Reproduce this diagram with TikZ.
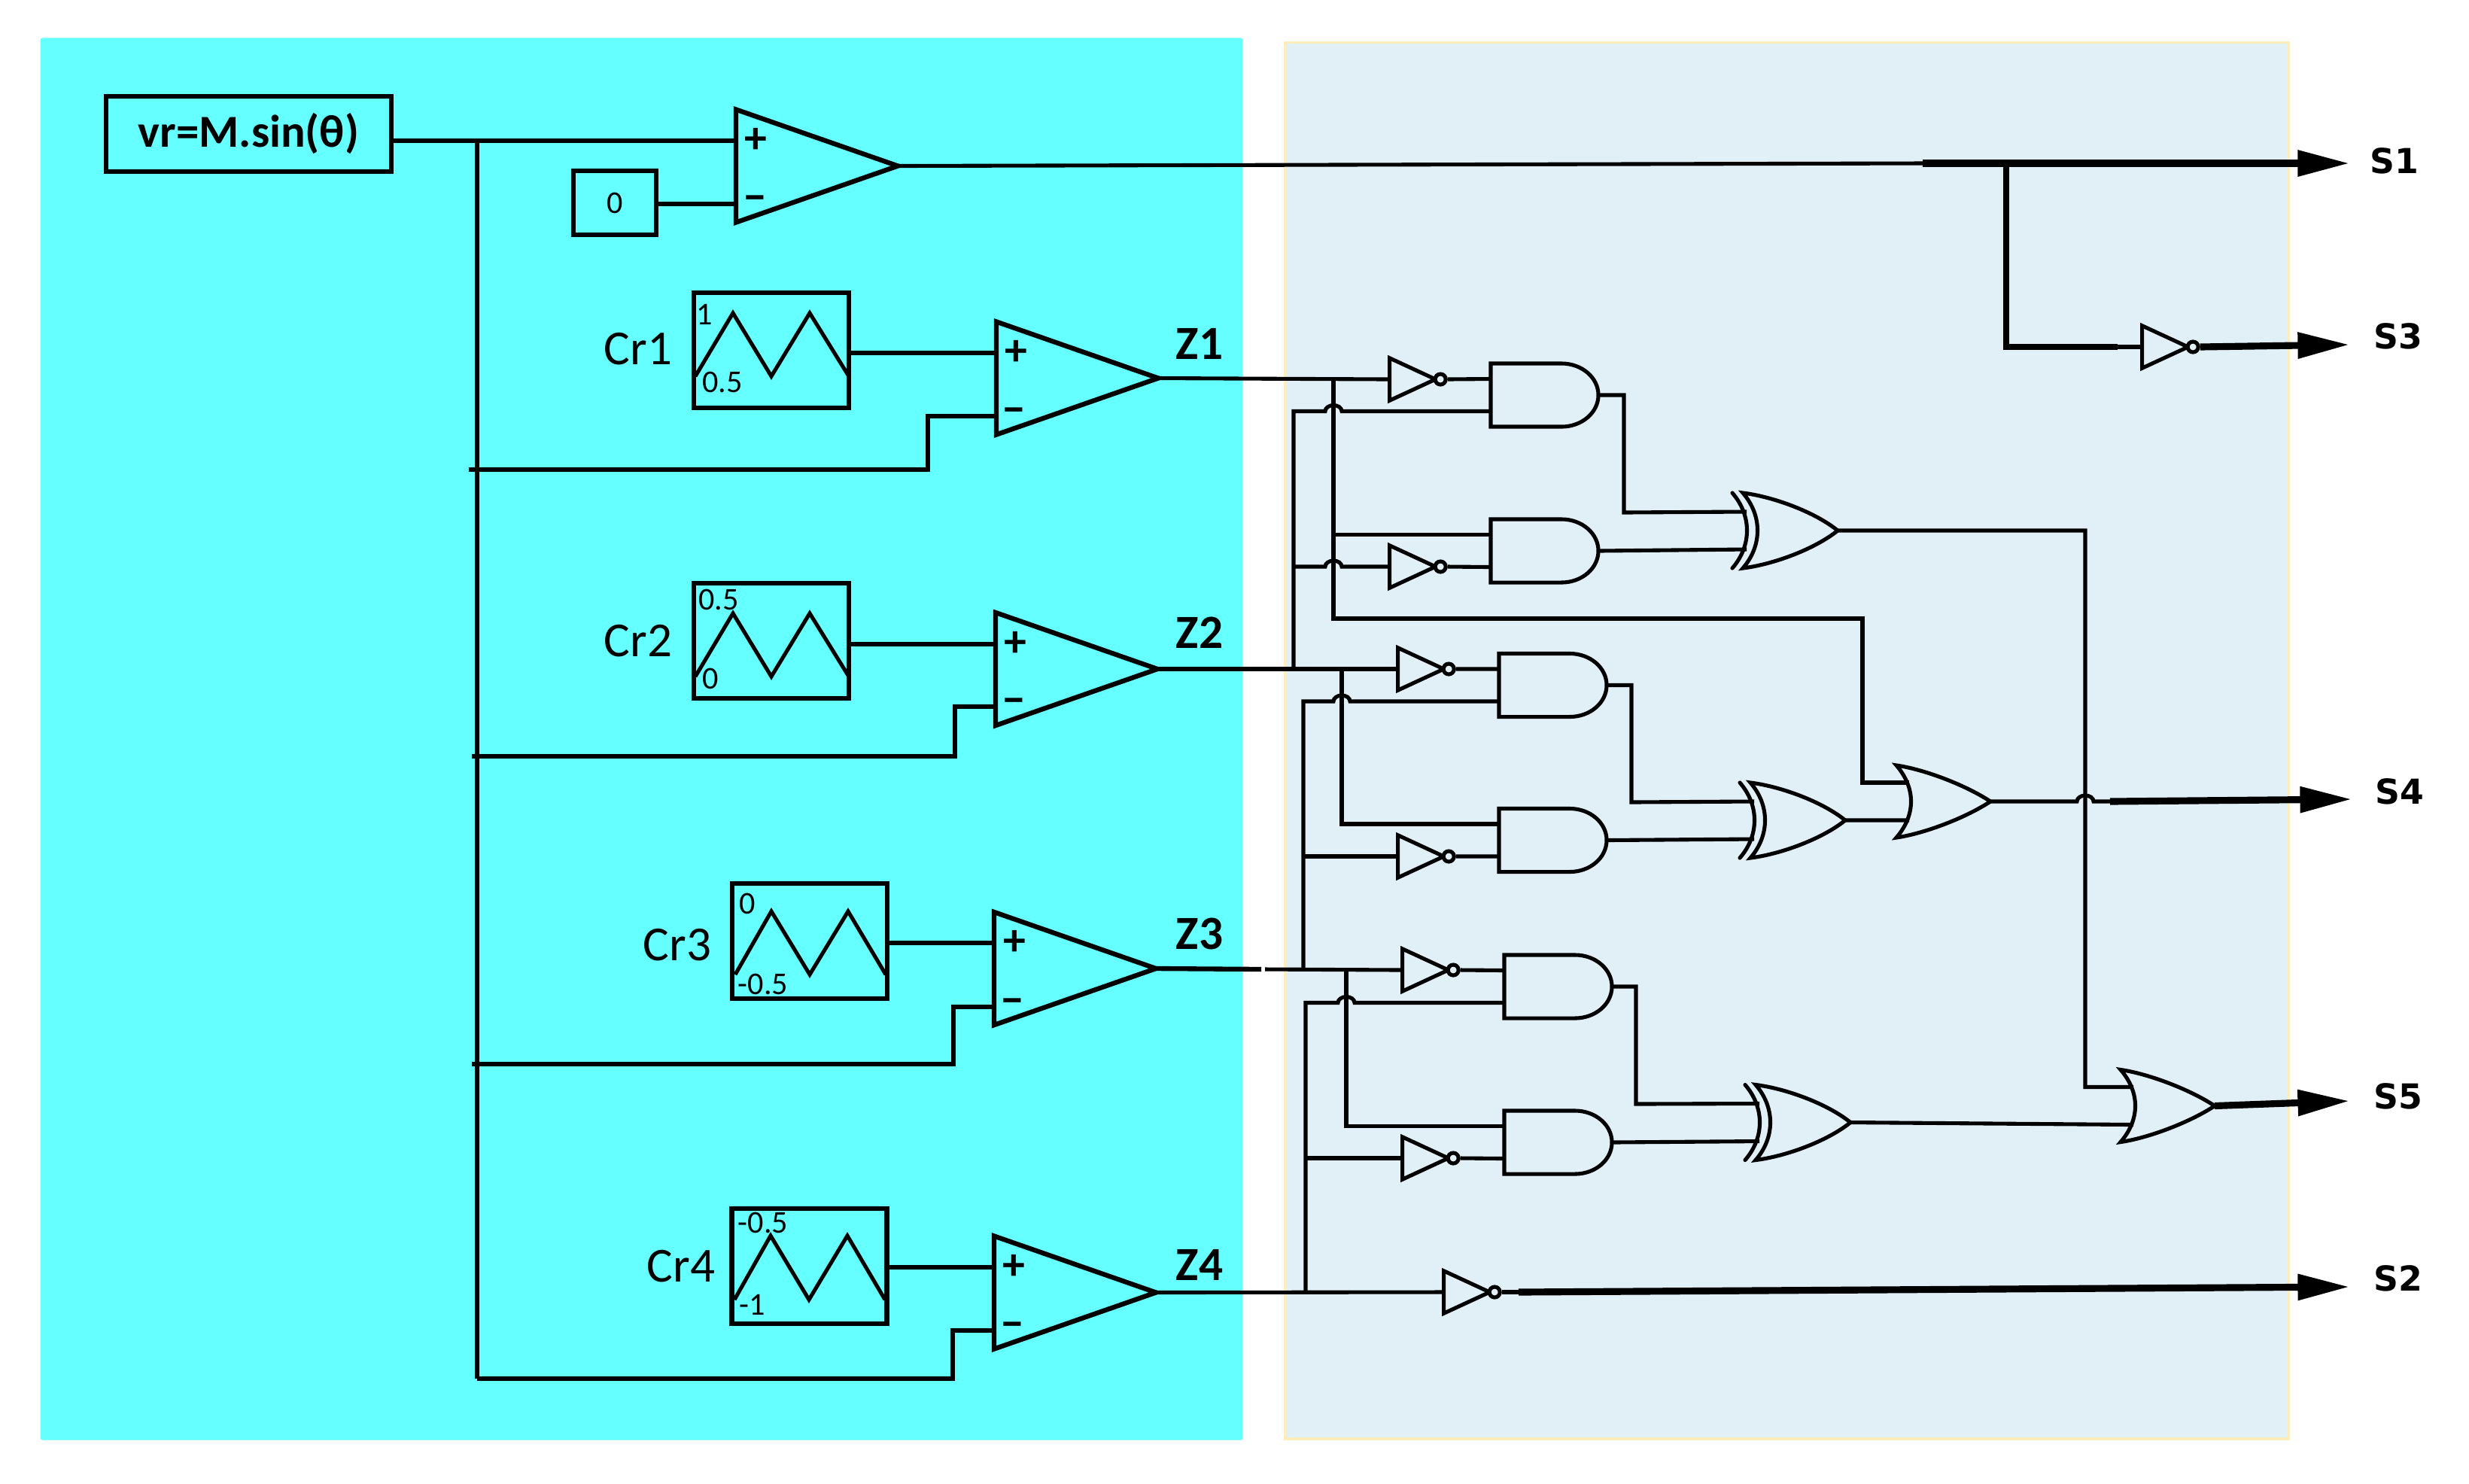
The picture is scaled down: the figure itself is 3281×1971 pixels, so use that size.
\documentclass[tikz,border=0pt]{standalone}
\usepackage{fontspec}
\setmainfont{Carlito}
\newfontfamily\outfont{DejaVu Sans}
\usetikzlibrary{arrows.meta,shapes.geometric,shapes.gates.logic.US}
\definecolor{modColor}{RGB}{102,255,255}
\definecolor{logicColor}{RGB}{225,240,246}
\definecolor{logicEdge}{RGB}{255,238,187}
\tikzset{leftPanel/.style={fill=modColor, rounded corners=.03cm, minimum width=15.97cm, minimum height=18.62cm}}
\tikzset{rightPanel/.style={fill=logicColor, draw=logicEdge, line width=1.1pt, minimum width=13.33cm, minimum height=18.54cm}}
\tikzset{block/.style={draw, line width=1.8pt, inner sep=0pt}}
\tikzset{carrier/.style={block, minimum width=2.06cm, minimum height=1.53cm}}
\tikzset{comparator/.style={draw, line width=1.8pt, isosceles triangle, isosceles triangle stretches, inner sep=0pt, outer sep=0pt, minimum width=1.5cm, minimum height=2.15cm, anchor=lower side}}
\tikzset{sign/.style={inner sep=0pt, font=\fontsize{17}{20}\selectfont\bfseries}}
\tikzset{small/.style={inner sep=0pt, font=\fontsize{12}{14}\selectfont}}
\tikzset{crLabel/.style={inner sep=0pt, font=\fontsize{18.5}{20}\selectfont}}
\tikzset{zLabel/.style={inner sep=0pt, font=\fontsize{18}{20}\selectfont\bfseries}}
\tikzset{sLabel/.style={inner sep=0pt, font=\fontsize{13}{14}\selectfont\outfont\bfseries}}
\tikzset{gateBox/.style={rectangle, inner sep=0pt, outer sep=0pt, anchor=west}}
\tikzset{andGate/.style={gateBox, minimum width=1.43cm, minimum height=.84cm, append after command={\pgfextra{
    \edef\gateName{\tikzlastnode}
    \draw (\gateName.north west) -- ++(94,0) arc[start angle=90, end angle=-90, x radius=.49cm, y radius=.42cm] -- (\gateName.south west) -- cycle;
    \coordinate (\gateName-1) at ([yshift=.215cm]\gateName.west);
    \coordinate (\gateName-2) at ([yshift=-.215cm]\gateName.west);
}}}}
\tikzset{xorGate/.style={gateBox, minimum width=1.4cm, minimum height=1cm, append after command={\pgfextra{
    \edef\gateName{\tikzlastnode}
    \draw [line cap=round] (\gateName.north west) .. controls +(26,30) and +(26,-30) .. (\gateName.south west);
    \draw ([xshift=.14cm]\gateName.north west) .. controls +(40,5) and +(-31,-25) .. (\gateName.east) .. controls +(-31,25) and +(40,-5) .. ([xshift=.14cm]\gateName.south west) .. controls +(26,-30) and +(26,30) .. cycle;
    \coordinate (\gateName-1) at ([xshift=.19cm,yshift=.25cm]\gateName.west);
    \coordinate (\gateName-2) at ([xshift=.19cm,yshift=-.25cm]\gateName.west);
}}}}
\tikzset{orGate/.style={gateBox, minimum width=1.25cm, minimum height=.96cm, append after command={\pgfextra{
    \edef\gateName{\tikzlastnode}
    \draw (\gateName.north west) .. controls +(35,5) and +(-35,-23) .. (\gateName.east) .. controls +(-35,23) and +(35,-5) .. (\gateName.south west) .. controls +(26,-30) and +(26,30) .. cycle;
    \coordinate (\gateName-1) at ([xshift=.17cm,yshift=.25cm]\gateName.west);
    \coordinate (\gateName-2) at ([xshift=.17cm,yshift=-.25cm]\gateName.west);
}}}}
\tikzset{notGate/.style={draw, not gate US, logic gate inverted radius=.07cm, minimum width=.6cm, minimum height=.43cm, inner sep=0pt, anchor=input}}
\tikzset{heavy/.style={line width=2.4pt}}
\tikzset{outWire/.style={line width=2.6pt, -{Triangle[length=19.5pt,width=9.4pt]}}}

\begin{document}
\begin{tikzpicture}[x=.01cm, y=-.01cm, line width=1.45pt]
    \useasboundingbox (0,0) rectangle (3281,1971);

    % Panels
    \node (left) [leftPanel] at (852.5,982) {};
    \node (right) [rightPanel] at (2374.5,984) {};

    % Sources
    \node (vr) [block, minimum width=3.79cm, minimum height=1cm, font=\fontsize{17.3}{18}\selectfont\bfseries] at (330.5,178) {vr=M.sin(θ)};
    \node (zero) [block, small, minimum width=1.1cm, minimum height=.85cm] at (817,269.5) {0};
    \node (cr1) [carrier] at (1025,465.5) {};
    \node (cr2) [carrier] at (1025,851.5) {};
    \node (cr3) [carrier] at (1076,1250.5) {};
    \node (cr4) [carrier] at (1075.5,1682.5) {};

    % Carrier waves
    \draw (924,500) -- ++(50,-84) -- ++(51,84) -- ++(51,-84) -- ++(52,84);
    \draw (924,899) -- ++(50,-84) -- ++(51,84) -- ++(51,-84) -- ++(52,84);
    \draw (977,1295) -- ++(48,-84) -- ++(51,84) -- ++(51,-84) -- ++(50,84);
    \draw (976,1727) -- ++(48,-85) -- ++(51,85) -- ++(51,-85) -- ++(50,85);

    % Carrier texts
    \node (t11) [small] at (936,418) {1};
    \node (t12) [small] at (960,508) {0.5};
    \node (t21) [small] at (955,797) {0.5};
    \node (t22) [small] at (944,902) {0};
    \node (t31) [small] at (993,1201) {0};
    \node (t32) [small] at (1014,1308) {-0.5};
    \node (t41) [small] at (1014,1625) {-0.5};
    \node (t42) [small] at (1000,1734) {-1};
    \node (l1) [crLabel] at (848,464) {Cr1};
    \node (l2) [crLabel] at (848,852) {Cr2};
    \node (l3) [crLabel] at (900,1256) {Cr3};
    \node (l4) [crLabel] at (905,1683) {Cr4};

    % Comparators
    \node (c0) [comparator] at (978,220.5) {};
    \node (c1) [comparator] at (1324,502.5) {};
    \node (c2) [comparator] at (1323,889) {};
    \node (c3) [comparator] at (1321,1287) {};
    \node (c4) [comparator] at (1321,1717.5) {};
    \node (p0) [sign] at (1004,187) {+};
    \node (m0) [sign] at (1003,271) {−};
    \node (p1) [sign] at (1350,469) {+};
    \node (m1) [sign] at (1347,553) {−};
    \node (p2) [sign] at (1349,856) {+};
    \node (m2) [sign] at (1347,939) {−};
    \node (p3) [sign] at (1348,1253) {+};
    \node (m3) [sign] at (1345,1338) {−};
    \node (p4) [sign] at (1347,1684) {+};
    \node (m4) [sign] at (1345,1768) {−};
    \node (z1) [zLabel] at (1594,457) {Z1};
    \node (z2) [zLabel] at (1594,841) {Z2};
    \node (z3) [zLabel] at (1594,1241) {Z3};
    \node (z4) [zLabel] at (1594,1681) {Z4};

    % Gates, Z1 and Z2
    \node (n1) [notGate] at (1844,504) {};
    \node (a1) [andGate] at (1981,525) {};
    \node (n2) [notGate] at (1844,753) {};
    \node (a2) [andGate] at (1981,732) {};
    \node (x1) [xorGate] at (2302,705) {};

    % Gates, Z2 and Z3
    \node (n3) [notGate] at (1855,889) {};
    \node (a3) [andGate] at (1992,910.5) {};
    \node (n4) [notGate] at (1855,1138) {};
    \node (a4) [andGate] at (1992,1116.5) {};
    \node (x2) [xorGate] at (2312,1090) {};

    % Gates, Z3 and Z4
    \node (n5) [notGate] at (1861,1289) {};
    \node (a5) [andGate] at (1999,1311) {};
    \node (n6) [notGate] at (1861,1539) {};
    \node (a6) [andGate] at (1999,1518) {};
    \node (x3) [xorGate] at (2319,1491.5) {};

    % Output gates
    \node (n7) [notGate] at (1916,1717) {};
    \node (n8) [notGate] at (2844,461) {};
    \node (o1) [orGate] at (2520,1065) {};
    \node (o2) [orGate] at (2818,1469.5) {};

    % Outputs
    \node (s1) [sLabel] at (3182,214) {S1};
    \node (s3) [sLabel] at (3187,447) {S3};
    \node (s4) [sLabel] at (3189,1052) {S4};
    \node (s5) [sLabel] at (3187,1457) {S5};
    \node (s2) [sLabel] at (3187,1699) {S2};

    % Free ends and corners
    \coordinate (busTop) at (634,187);
    \coordinate (busBot) at (634,1832);
    \coordinate (b1) at (623,624);
    \coordinate (b2) at (627,1005);
    \coordinate (b3) at (627,1414);
    \coordinate (k1) at (1233,624);
    \coordinate (k2) at (1269,1005);
    \coordinate (k3) at (1267,1414);
    \coordinate (k4) at (1266,1832);
    \coordinate (j1) at (1772,502);
    \coordinate (j2) at (1783,888);
    \coordinate (j3) at (1789,1288);
    \coordinate (g1) at (1719,887);
    \coordinate (g2) at (1732,1288);
    \coordinate (g3) at (1735,1716);
    \coordinate (h1) at (1761,546.5);
    \coordinate (h2) at (1761,753);
    \coordinate (h3) at (1772,932);
    \coordinate (h4) at (1778,1332.5);
    \coordinate (h5) at (2760,1065);
    \coordinate (e1) at (2475,822);
    \coordinate (e2) at (2771,1444.5);
    \coordinate (f1) at (2158,681);
    \coordinate (f2) at (2168,1066);
    \coordinate (f3) at (2174,1467);
    \coordinate (d1) at (1676,1288);
    \coordinate (d2) at (1681,1288);
    \coordinate (w1) at (2555,217);
    \coordinate (w2) at (2018,1717);
    \coordinate (w3) at (2814,461);
    \coordinate (w4) at (2804,1065);
    \coordinate (j0) at (2666,217);
    \coordinate (s1tip) at (3122,217);
    \coordinate (s3tip) at (3122,458);
    \coordinate (s4tip) at (3125,1062);
    \coordinate (s5tip) at (3122,1463);
    \coordinate (s2tip) at (3122,1710);

    % Connectors, left part
    \draw (vr.east |- p0) -- (c0.lower side |- p0);
    \draw (zero.east |- m0) -- (c0.lower side |- m0);
    \draw (busTop) -- (busBot);
    \draw (cr1.east |- p1) -- (c1.lower side |- p1);
    \draw (cr2.east |- p2) -- (c2.lower side |- p2);
    \draw (cr3.east |- p3) -- (c3.lower side |- p3);
    \draw (cr4.east |- p4) -- (c4.lower side |- p4);
    \draw (c1.lower side |- m1) -| (k1) -- (b1);
    \draw (c2.lower side |- m2) -| (k2) -- (b2);
    \draw (c3.lower side |- m3) -| (k3) -- (b3);
    \draw (c4.lower side |- m4) -| (k4) -- (busBot);

    % Connectors, Z1
    \draw (c1.apex) -- (n1.input);
    \draw (n1.output) -- (a1-1);
    \draw (j1) |- (e1) |- (o1-1);
    \draw (j1 |- a2-1) -- (a2-1);
    \draw (n2.output) -- (a2-2);
    \draw (a1.east) -| (f1) -- (x1-1);
    \draw (a2.east) -- (x1-2);
    \draw (x1.east) -| (e2) -- (o2-1);

    % Connectors, Z2
    \draw (c2.apex) -- (n3.input);
    \draw (g1) |- (h1) arc[start angle=180, end angle=0, x radius=.11cm, y radius=.08cm] -- (a1-2);
    \draw (g1 |- n2.input) -- (h2) arc[start angle=180, end angle=0, x radius=.11cm, y radius=.08cm] -- (n2.input);
    \draw (n3.output) -- (a3-1);
    \draw (j2) |- (a4-1);
    \draw (n4.output) -- (a4-2);
    \draw (a3.east) -| (f2) -- (x2-1);
    \draw (a4.east) -- (x2-2);
    \draw (x2.east) -- (o1-2);

    % Connectors, Z3
    \draw [line width=1.8pt] (c3.apex) -- (d1);
    \draw (d2) -- (n5.input);
    \draw (g2) |- (h3) arc[start angle=180, end angle=0, x radius=.11cm, y radius=.08cm] -- (a3-2);
    \draw (g2 |- n4.input) -- (n4.input);
    \draw (n5.output) -- (a5-1);
    \draw (j3) |- (a6-1);
    \draw (n6.output) -- (a6-2);
    \draw (a5.east) -| (f3) -- (x3-1);
    \draw (a6.east) -- (x3-2);
    \draw (x3.east) -- (o2-2);

    % Connectors, Z4
    \draw (c4.apex) -- (n7.input);
    \draw (g3) |- (h4) arc[start angle=180, end angle=0, x radius=.11cm, y radius=.08cm] -- (a5-2);
    \draw (g3 |- n6.input) -- (n6.input);
    \draw (n7.output) -- (w2);

    % Connectors, outputs
    \draw (c0.apex) -- (w1);
    \draw [outWire] (w1) -- (s1tip);
    \draw [heavy] (j0) |- (w3);
    \draw (w3) -- (n8.input);
    \draw [outWire] (n8.output) -- (s3tip);
    \draw (o1.east) -- (h5) arc[start angle=180, end angle=0, x radius=.11cm, y radius=.08cm] -- (w4);
    \draw [outWire] (w4) -- (s4tip);
    \draw [outWire] (o2.east) -- (s5tip);
    \draw [outWire] (w2) -- (s2tip);

\end{tikzpicture}
\end{document}
